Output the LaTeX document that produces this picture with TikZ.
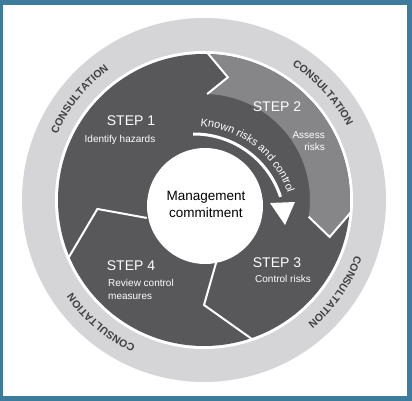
\documentclass[tikz,border=0pt]{standalone}
\usepackage{fontspec}
\setmainfont{Liberation Sans}
\usetikzlibrary{decorations.text}
\definecolor{frameblue}{RGB}{62,124,158}
\definecolor{ringgray}{RGB}{213,213,215}
\definecolor{darkstep}{RGB}{88,88,90}
\definecolor{lightstep}{RGB}{134,134,137}
\definecolor{ringtxt}{RGB}{64,64,66}
\tikzset{
  steptitle/.style={text=white, font=\fontsize{14}{14}\selectfont, inner sep=0pt},
  stepdesc/.style ={text=white, font=\fontsize{10}{12.5}\selectfont, inner sep=0pt},
  centre/.style   ={text=black, font=\fontsize{13.5}{17}\selectfont, align=center, inner sep=0pt},
  divider/.style  ={draw=white, line width=2pt, line join=miter},
  consult/.style  ={decorate, decoration={text along path, text align=center,
                    text={|\fontsize{10.5}{10.5}\selectfont\bfseries\color{ringtxt}|CONSULTATION}}},
}
\begin{document}
\begin{tikzpicture}[x=1pt,y=1pt]
\useasboundingbox (-204,-201) rectangle (208,200);
\fill[frameblue] (-204,-201) rectangle (208,200);
\fill[white] (-201,-196) rectangle (203,195);
\fill[ringgray] (0,0) circle (182);
\fill[white] (0,0) circle (149);
\fill[darkstep] (0,0) circle (146);
\fill[lightstep] (88.6:146) arc[start angle=88.6,end angle=-5,radius=146] -- (-16.4:131) -- (-9.1:106)
  arc[start angle=-9.1,end angle=88.3,radius=106] -- (79:125) -- cycle;
\draw[divider] (88.6:147) -- (79:125) -- (88.3:106);
\draw[divider] (-9.1:106) -- (-16.4:131) -- (-5:147);
\draw[divider] (-71:147) -- (-90:105) -- (-77.2:60);
\draw[divider] (203:147) -- (184.8:107) -- (197.4:60);
\fill[white] (1,-6) circle (58);
\draw[white, line width=3pt, shift={(-10,-25)}] (90.6:91) arc[start angle=90.6,end angle=18,radius=91];
\fill[white] (66,-3) -- (91,-2) -- (81,-25) -- cycle;
\path[decorate, shift={(-10,-25)}, decoration={text along path, text align=center,
  text={|\fontsize{11}{11}\selectfont\color{white}|Known risks and control}}]
  (88:99) arc[start angle=88,end angle=17,radius=99];
\path[consult] (181:161) arc[start angle=181,end angle=101,radius=161];
\path[consult] (82:161) arc[start angle=82,end angle=2,radius=161];
\path[consult] (5:161) arc[start angle=5,end angle=-75,radius=161];
\path[consult] (270:161) arc[start angle=270,end angle=190,radius=161];
\node[steptitle] (t1) at (-73,79) {STEP 1};
\node[stepdesc] (d1) at (-84,60) {Identify hazards};
\node[steptitle] (t2) at (73,93) {STEP 2};
\node[stepdesc, align=right, anchor=east] (d2) at (121,59) {Assess\\risks};
\node[steptitle] (t3) at (73,-63) {STEP 3};
\node[stepdesc, anchor=west] (d3) at (51,-79) {Control risks};
\node[steptitle] (t4) at (-73,-66) {STEP 4};
\node[stepdesc, align=left, anchor=west] (d4) at (-96,-89.5) {Review control\\measures};
\node[centre] (mc) at (2,-4) {Management\\commitment};
\end{tikzpicture}
\end{document}
